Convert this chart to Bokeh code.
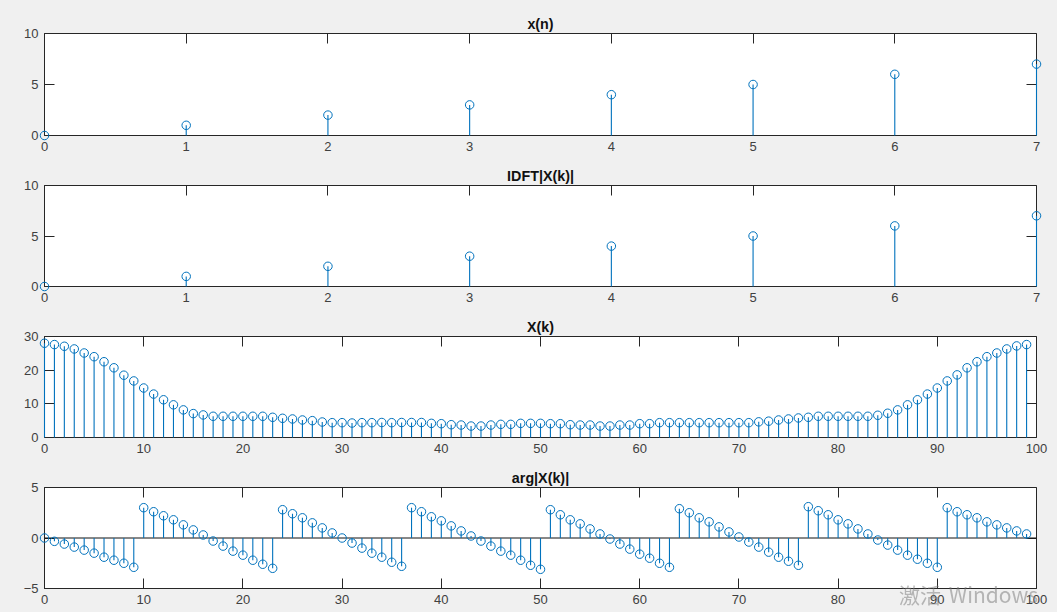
from bokeh.plotting import figure
from bokeh.layouts import column
from bokeh.models import (ColumnDataSource, LinearAxis, FixedTicker, Range1d, Span, Div,
                          CustomLabelingPolicy, GlobalInlineStyleSheet)
from bokeh.embed import file_html
from bokeh.resources import INLINE

n_values = [0, 1, 2, 3, 4, 5, 6, 7]
xn = [0, 1, 2, 3, 4, 5, 6, 7]
idft = [0, 1, 2, 3, 4, 5, 6, 7]
k_values = list(range(100))
mag = [28.0, 27.6, 27.1, 26.3, 25.1, 24.0, 22.5, 20.7, 18.5, 16.8,
       14.7, 12.9, 11.2, 9.7, 8.2, 7.1, 6.7, 6.3, 6.3, 6.3,
       6.3, 6.3, 6.3, 6.0, 5.7, 5.5, 5.2, 5.0, 4.6, 4.4,
       4.4, 4.3, 4.4, 4.4, 4.45, 4.4, 4.45, 4.45, 4.45, 4.2,
       4.1, 3.8, 3.7, 3.4, 3.4, 3.7, 3.9, 3.9, 4.2, 4.2,
       4.2, 4.1, 4.1, 3.8, 3.7, 3.7, 3.4, 3.4, 3.7, 3.7,
       4.1, 4.1, 4.4, 4.4, 4.4, 4.4, 4.4, 4.4, 4.4, 4.4,
       4.4, 4.4, 4.65, 4.85, 5.2, 5.5, 5.8, 6.0, 6.3, 6.3,
       6.3, 6.3, 6.3, 6.3, 6.6, 7.2, 8.2, 9.7, 11.2, 12.9,
       14.7, 16.8, 18.6, 20.7, 22.5, 24.0, 25.1, 26.3, 27.2, 27.6]
arg = [0.0, -0.33, -0.6, -0.9, -1.2, -1.5, -1.9, -2.2, -2.5, -2.9,
       3.0, 2.6, 2.2, 1.8, 1.3, 0.8, 0.3, -0.3, -0.8, -1.3,
       -1.7, -2.2, -2.6, -3.0, 2.8, 2.4, 2.0, 1.5, 1.0, 0.5,
       0.0, -0.5, -1.0, -1.5, -1.9, -2.4, -2.8, 3.0, 2.6, 2.1,
       1.7, 1.2, 0.7, 0.2, -0.3, -0.8, -1.3, -1.7, -2.2, -2.7,
       -3.1, 2.8, 2.3, 1.8, 1.4, 0.9, 0.4, -0.1, -0.6, -1.1,
       -1.6, -2.0, -2.5, -2.9, 2.9, 2.5, 2.0, 1.6, 1.1, 0.6,
       0.1, -0.4, -0.9, -1.4, -1.9, -2.3, -2.7, 3.1, 2.7, 2.3,
       1.8, 1.4, 0.9, 0.4, -0.2, -0.7, -1.2, -1.7, -2.1, -2.5,
       -2.9, 3.0, 2.6, 2.3, 2.0, 1.6, 1.3, 1.0, 0.7, 0.4]

titles = ["x(n)", "IDFT|X(k)|", "X(k)", "arg|X(k)|"]
x_ticks_short = [0, 1, 2, 3, 4, 5, 6, 7]
x_ticks_long = [0, 10, 20, 30, 40, 50, 60, 70, 80, 90, 100]
y_ticks_a = [0, 5, 10]
y_ticks_b = [0, 10, 20, 30]
y_ticks_c = [-5, 0, 5]
watermark = "激活 Windows"

BG = "#f0f0f0"
BLUE = "#0072BD"
DARK = "#262626"
FONT = "Liberation Sans"


def no_labels():
    return CustomLabelingPolicy(code="return []")


def panel(title, xs, ys, xr, yr, xt, yt, height, top, bottom, zero_line=False):
    p = figure(width=1057, height=height, output_backend="svg", toolbar_location=None,
               x_range=Range1d(*xr), y_range=Range1d(*yr),
               min_border_left=44, min_border_right=21, min_border_top=top, min_border_bottom=bottom,
               background_fill_color="white", border_fill_color=BG, x_axis_location="below",
               y_axis_location="left")
    p.grid.visible = False
    p.outline_line_color = DARK
    p.outline_line_width = 1
    p.title.text = title
    p.title.align = "center"
    p.title.text_font = FONT
    p.title.text_font_size = "14.3px"
    p.title.text_font_style = "bold"
    p.title.text_color = "#111111"
    p.title.standoff = 4
    p.add_layout(LinearAxis(fixed_location=yr[1]), "above")
    p.add_layout(LinearAxis(fixed_location=xr[1]), "right")
    for ax in p.xaxis + p.yaxis:
        ax.axis_line_color = DARK
        ax.major_tick_line_color = DARK
        ax.major_tick_in = 10
        ax.major_tick_out = 0
        ax.minor_tick_line_color = None
        ax.major_label_text_font = FONT
        ax.major_label_text_font_size = "13px"
        ax.major_label_text_color = "#404040"
        ax.major_label_standoff = 6
    for ax in p.xaxis:
        ax.ticker = FixedTicker(ticks=xt)
    for ax in p.yaxis:
        ax.ticker = FixedTicker(ticks=yt)
    for ax in (p.above[-1], p.right[-1]):
        ax.major_label_policy = no_labels()
        ax.major_label_standoff = 0
    if zero_line:
        p.add_layout(Span(location=0, dimension="width", line_color="#111111", line_width=1))
    else:
        # every bottom tick sits under a stem in these panels
        p.below[0].major_tick_line_color = None
    src = ColumnDataSource(data=dict(x=xs, y=ys, base=[0] * len(xs)))
    p.segment(x0="x", y0="base", x1="x", y1="y", source=src, line_color=BLUE, line_width=1.1,
              level="overlay")
    p.scatter(x="x", y="y", source=src, marker="circle", size=8.5, fill_color=None,
              line_color=BLUE, line_width=1, level="overlay")
    return p


p1 = panel(titles[0], n_values, xn, (0, 7), (0, 10), x_ticks_short, y_ticks_a, 159, 33, 24)
p2 = panel(titles[1], n_values, idft, (0, 7), (0, 10), x_ticks_short, y_ticks_a, 151, 26, 24)
p3 = panel(titles[2], k_values, mag, (0, 100), (0, 30), x_ticks_long, y_ticks_b, 151, 26, 24)
p4 = panel(titles[3], k_values, arg, (0, 100), (-5, 5), x_ticks_long, y_ticks_c, 151, 26, 24, zero_line=True)

mark = Div(text=watermark, width=140, height=0, margin=0,
           styles={"position": "fixed", "left": "899px", "top": "579px",
                   "font-family": "'Noto Sans CJK SC'", "font-size": "21px", "word-spacing": "3px",
                   "color": "rgba(120,120,120,0.5)", "white-space": "nowrap"})

layout = column(p1, p2, p3, p4, mark, spacing=0,
                stylesheets=[GlobalInlineStyleSheet(css=f"html,body{{background:{BG};}}")])

open("out.html", "w").write(file_html(layout, INLINE))
